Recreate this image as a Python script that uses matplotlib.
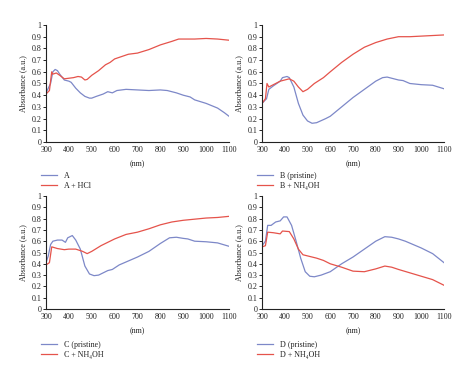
import matplotlib
matplotlib.use("Agg")
import matplotlib.pyplot as plt

plt.rcParams['font.family'] = ['Liberation Serif', 'DejaVu Serif']
plt.rcParams['mathtext.default'] = 'regular'

# Panel A
a_x = [300, 320, 330, 340, 350, 360, 380, 400, 410, 430, 450, 470, 490, 500, 520, 550, 570, 590, 610, 650,
       700, 750, 800, 830, 870, 900, 930, 950, 1000, 1050, 1080, 1100]
a_blue = [0.42, 0.5, 0.6, 0.62, 0.61, 0.58, 0.53, 0.52, 0.51, 0.46, 0.42, 0.39, 0.375, 0.375, 0.39, 0.41, 0.43, 0.42, 0.44, 0.45,
          0.445, 0.44, 0.445, 0.44, 0.42, 0.40, 0.385, 0.36, 0.33, 0.29, 0.25, 0.22]
a_red_x = [300, 315, 325, 330, 345, 360, 380, 400, 420, 440, 455, 470, 480, 500, 530, 560, 580, 600, 630, 660,
           700, 750, 800, 850, 880, 900, 950, 1000, 1050, 1100]
a_red = [0.41, 0.44, 0.6, 0.58, 0.59, 0.57, 0.54, 0.545, 0.55, 0.56, 0.555, 0.53, 0.535, 0.57, 0.61, 0.66, 0.68, 0.71, 0.73, 0.75,
         0.76, 0.79, 0.83, 0.86, 0.88, 0.88, 0.88, 0.885, 0.88, 0.87]

# Panel B
b_x = [300, 320, 330, 350, 380, 390, 410, 420, 440, 460, 480, 500, 520, 540, 580, 600, 650, 700, 750, 800,
       830, 850, 880, 900, 920, 950, 1000, 1050, 1100]
b_blue = [0.33, 0.37, 0.45, 0.48, 0.52, 0.55, 0.56, 0.55, 0.47, 0.33, 0.23, 0.18, 0.16, 0.165, 0.2, 0.22, 0.3, 0.38, 0.45, 0.52,
          0.55, 0.555, 0.54, 0.53, 0.525, 0.5, 0.49, 0.485, 0.455]
b_red_x = [300, 315, 322, 330, 350, 380, 400, 420, 440, 460, 480, 500, 530, 570, 600, 650, 700, 750, 800, 850,
           900, 950, 1000, 1050, 1100]
b_red = [0.33, 0.37, 0.5, 0.47, 0.49, 0.52, 0.53, 0.54, 0.52, 0.47, 0.43, 0.45, 0.5, 0.55, 0.6, 0.68, 0.75, 0.81, 0.85, 0.88,
         0.9, 0.9, 0.905, 0.91, 0.915]

# Panel C
c_x = [300, 310, 320, 330, 350, 370, 385, 395, 415, 430, 450, 470, 490, 510, 530, 550, 570, 590, 620, 700,
       750, 800, 840, 870, 900, 920, 950, 1000, 1050, 1100]
c_blue = [0.41, 0.47, 0.57, 0.6, 0.61, 0.61, 0.59, 0.63, 0.65, 0.61, 0.53, 0.38, 0.31, 0.295, 0.3, 0.32, 0.34, 0.35, 0.39, 0.46,
          0.51, 0.58, 0.63, 0.635, 0.625, 0.62, 0.6, 0.595, 0.585, 0.555]
c_red_x = [300, 315, 325, 350, 380, 400, 430, 460, 480, 500, 540, 580, 600, 650, 700, 750, 800, 850, 900, 950,
           1000, 1050, 1100]
c_red = [0.39, 0.41, 0.55, 0.535, 0.525, 0.53, 0.53, 0.51, 0.49, 0.51, 0.56, 0.6, 0.62, 0.66, 0.68, 0.71, 0.745, 0.77, 0.785, 0.795,
         0.805, 0.81, 0.82]

# Panel D
d_x = [300, 315, 325, 340, 360, 380, 395, 410, 430, 450, 470, 490, 510, 530, 560, 600, 650, 700, 750, 800,
       840, 870, 900, 930, 1000, 1050, 1100]
d_blue = [0.56, 0.6, 0.74, 0.74, 0.77, 0.78, 0.815, 0.815, 0.74, 0.6, 0.45, 0.33, 0.29, 0.285, 0.3, 0.33, 0.4, 0.46, 0.53, 0.6,
          0.64, 0.635, 0.62, 0.6, 0.54, 0.49, 0.41]
d_red_x = [300, 315, 325, 350, 380, 390, 420, 440, 460, 480, 500, 540, 570, 600, 650, 700, 750, 800, 840, 870,
           900, 950, 1000, 1050, 1100]
d_red = [0.55, 0.56, 0.68, 0.675, 0.665, 0.69, 0.685, 0.62, 0.53, 0.48, 0.47, 0.45, 0.43, 0.4, 0.37, 0.335, 0.33, 0.355, 0.38, 0.37,
         0.35, 0.32, 0.29, 0.26, 0.21]

labels = [("A", "A + HCl"),
          ("B (pristine)", "B + NH\u2084OH"),
          ("C (pristine)", "C + NH\u2084OH"),
          ("D (pristine)", "D + NH\u2084OH")]

x_ticks = [300, 400, 500, 600, 700, 800, 900, 1000, 1100]
y_ticks = [0, 0.1, 0.2, 0.3, 0.4, 0.5, 0.6, 0.7, 0.8, 0.9, 1]
y_ticklabels = ["0", "0.1", "0.2", "0.3", "0.4", "0.5", "0.6", "0.7", "0.8", "0.9", "1"]

BLUE = '#7d88c8'
RED = '#e5534b'
TXT = '#222222'
FS = 5.8

W, H = 474, 379
fig = plt.figure(figsize=(W / 100, H / 100), dpi=100)

# axes rectangles in pixels: left, right, top, bottom
rects = [(46, 229, 25, 142), (262, 444, 25, 142), (46, 229, 196, 309), (262, 444, 196, 309)]
data = [(a_x, a_blue, a_red_x, a_red), (b_x, b_blue, b_red_x, b_red),
        (c_x, c_blue, c_red_x, c_red), (d_x, d_blue, d_red_x, d_red)]
legend_y = [169, 169, 338, 338]

for i in range(4):
    l, r, t, b = rects[i]
    ax = fig.add_axes([l / W, 1 - b / H, (r - l) / W, (b - t) / H])
    bx, by, rx, ry = data[i]
    ax.plot(bx, by, color=BLUE, lw=0.9, label=labels[i][0])
    ax.plot(rx, ry, color=RED, lw=0.9, label=labels[i][1])
    ax.set_xlim(300, 1100)
    ax.set_ylim(0, 1)
    ax.set_xticks(x_ticks)
    ax.set_xticklabels([str(v) for v in x_ticks])
    ax.set_yticks(y_ticks)
    ax.set_yticklabels(y_ticklabels)
    for s in ['top', 'right']:
        ax.spines[s].set_visible(False)
    for s in ['left', 'bottom']:
        ax.spines[s].set_linewidth(0.8)
        ax.spines[s].set_color(TXT)
    ax.tick_params(axis='y', length=2, width=0.7, pad=1.5, labelsize=FS, colors=TXT)
    ax.tick_params(axis='x', length=0, pad=3, labelsize=FS, colors=TXT)
    ax.set_xlabel("(nm)", fontsize=FS, labelpad=4, color=TXT)
    ax.set_ylabel("Absorbance (a.u.)", fontsize=FS, labelpad=3, color=TXT)
    ax.legend(loc='upper left', bbox_to_anchor=((l - 8) / W, 1 - legend_y[i] / H),
              bbox_transform=fig.transFigure, frameon=False, fontsize=FS,
              handlelength=2.0, handletextpad=0.8, labelspacing=0.25, borderaxespad=0,
              labelcolor=TXT)

fig.savefig("out.png", dpi=100)
